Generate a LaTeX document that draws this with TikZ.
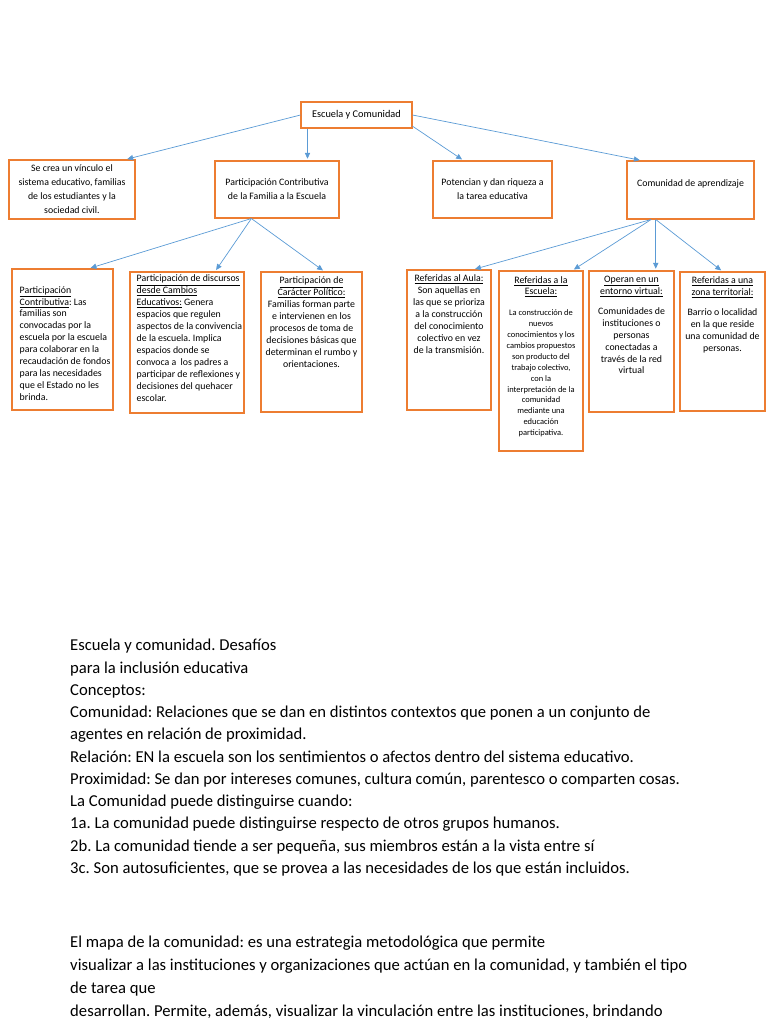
\documentclass[tikz,border=0pt]{standalone}
\usepackage{fontspec}
\setmainfont{Carlito}
\usepackage{xcolor}
\usepackage{tikz}
\usetikzlibrary{arrows.meta}
\definecolor{naranja}{RGB}{237,125,49}
\definecolor{azul}{RGB}{91,155,213}
\frenchspacing
\tikzset{
    caja/.style 2 args={draw=naranja, line width=0.9pt, minimum width=#1*0.03cm, minimum height=#2*0.03cm, inner sep=0pt, align=center},
    flecha/.style={draw=azul, line width=0.6pt, shorten >=1.5pt, -{Triangle[length=5pt,width=4.5pt]}},
    grande/.style={font=\fontsize{8.4}{12}\selectfont},
    chico/.style={font=\fontsize{8.4}{10.2}\selectfont, inner sep=0pt, align=center, anchor=north},
    menudo/.style={font=\fontsize{7.2}{9.3}\selectfont},
    cuerpo/.style={font=\fontsize{14.2}{19}\selectfont, inner sep=0pt, align=left, anchor=north west}
}
\begin{document}
\begin{tikzpicture}[x=0.03cm,y=-0.03cm]
                    \useasboundingbox (0,0) rectangle (768,1024);
                    
                    \node[caja={111}{26}, font=\fontsize{8.8}{11}\selectfont] (eC) at (356.5,115) {Escuela y Comunidad};
                    \node[caja={126}{59}, grande] (vS) at (72,189.5) {Se crea un vínculo el\\sistema educativo, familias\\de los estudiantes y la\\sociedad civil.};
                    \node[caja={124}{57}, grande] (pC) at (277,189.5) {Participación Contributiva\\de la Familia a la Escuela};
                    \node[caja={119}{57}, grande] (pR) at (492.5,189.5) {Potencian y dan riqueza a\\la tarea educativa};
                    \node[caja={127}{58}] (cA) at (690.5,190) {};
                    \node[grande] (tA) at ([yshift=5pt]cA.center) {Comunidad de aprendizaje};
                    
                    \node[caja={101}{141}] (pCt) at (62.5,339.5) {};
                    \node[caja={114}{141}] (pD) at (187,342.5) {};
                    \node[caja={101}{140}] (pP) at (311.5,342) {};
                    \node[caja={84}{140}] (rA) at (449,340) {};
                    \node[caja={84}{180}] (rE) at (541,361) {};
                    \node[caja={85}{141}] (oV) at (631.5,341.5) {};
                    \node[caja={85}{139}] (rZ) at (722.5,341.5) {};
                    
                    \node[chico, anchor=north west, align=left] (tCt) at ([xshift=6.8pt,yshift=-15pt]pCt.north west) {\underline{Participación}\\\underline{Contributiva}: Las\\familias son\\convocadas por la\\escuela por la escuela\\para colaborar en la\\recaudación de fondos\\para las necesidades\\que el Estado no les\\brinda.};
                    \node[chico, anchor=north west, align=left] (tD) at ([xshift=6pt,yshift=-2.6pt]pD.north west) {\underline{Participación de discursos}\\\underline{desde Cambios}\\\underline{Educativos:} Genera\\espacios que regulen\\aspectos de la convivencia\\de la escuela. Implica\\espacios donde se\\convoca a\ \ los padres a\\participar de reflexiones y\\decisiones del quehacer\\escolar.};
                    \node[chico] (tP) at ([yshift=-4.3pt]pP.north) {\underline{Participación de}\\\underline{Carácter Político:}\\Familias forman parte\\e intervienen en los\\procesos de toma de\\decisiones básicas que\\determinan el rumbo y\\orientaciones.};
                    \node[chico] (tA2) at ([yshift=-4.3pt]rA.north) {\underline{Referidas al Aula:}\\Son aquellas en\\las que se prioriza\\a la construcción\\del conocimiento\\colectivo en vez\\de la transmisión.};
                    \node[chico, font=\fontsize{8.4}{9.4}\selectfont] (tE) at ([yshift=-5.1pt]rE.north) {\underline{Referidas a la}\\\underline{Escuela:}};
                    \node[chico, menudo] (tE2) at ([yshift=-33.5pt]rE.north) {La construcción de\\nuevos\\conocimientos y los\\cambios propuestos\\son producto del\\trabajo colectivo,\\con la\\interpretación de la\\comunidad\\mediante una\\educación\\participativa.};
                    \node[chico] (tV) at ([yshift=-4.3pt]oV.north) {\underline{Operan en un}\\\underline{entorno virtual:}\\[7pt]Comunidades de\\instituciones o\\personas\\conectadas a\\través de la red\\virtual};
                    \node[chico] (tZ) at ([yshift=-4.3pt]rZ.north) {\underline{Referidas a una}\\\underline{zona territorial:}\\[7pt]Barrio o localidad\\en la que reside\\una comunidad de\\personas.};
                    
                    \coordinate (o0) at ([xshift=6pt]eC.south west);
                    \draw[flecha] (eC.west) -- ([xshift=-8.5pt]vS.north east);
                    \draw[flecha] (o0) -- (o0 |- pC.north);
                    \draw[flecha] ([yshift=2pt]eC.south east) -- ([xshift=26.5pt]pR.north west);
                    \draw[flecha] (eC.east) -- ([xshift=12.8pt]cA.north west);
                    
                    \coordinate (o1) at ([xshift=31.5pt]pC.south west);
                    \draw[flecha] (o1) -- ([xshift=-21pt]pCt.north east);
                    \draw[flecha] (o1) -- ([xshift=24pt]pD.north);
                    \draw[flecha] (o1) -- ([xshift=11pt]pP.north);
                    
                    \coordinate (o2) at ([xshift=21pt]cA.south west);
                    \coordinate (o3) at ([xshift=4pt]o2);
                    \draw[flecha] (o2) -- ([xshift=-15.5pt]rA.north east);
                    \draw[flecha] (o2) -- ([xshift=-9.5pt]rE.north east);
                    \draw[flecha] (o3) -- (o3 |- oV.north);
                    \draw[flecha] (o3) -- (rZ.north);
                    
                    \node[cuerpo] (tx1) at (70,639) {Escuela y comunidad. Desafíos\\para la inclusión educativa\\Conceptos:\\Comunidad: Relaciones que se dan en distintos contextos que ponen a un conjunto de\\agentes en relación de proximidad.\\Relación: EN la escuela son los sentimientos o afectos dentro del sistema educativo.\\Proximidad: Se dan por intereses comunes, cultura común, parentesco o comparten cosas.\\La Comunidad puede distinguirse cuando:\\1a. La comunidad puede distinguirse respecto de otros grupos humanos.\\2b. La comunidad tiende a ser pequeña, sus miembros están a la vista entre sí\\3c. Son autosuficientes, que se provea a las necesidades de los que están incluidos.};
                    \node[cuerpo, font=\fontsize{14.2}{19.6}\selectfont] (tx2) at (70,936) {El mapa de la comunidad: es una estrategia metodológica que permite\\visualizar a las instituciones y organizaciones que actúan en la comunidad, y también el tipo\\de tarea que\\desarrollan. Permite, además, visualizar la vinculación entre las instituciones, brindando};
\end{tikzpicture}
\end{document}
